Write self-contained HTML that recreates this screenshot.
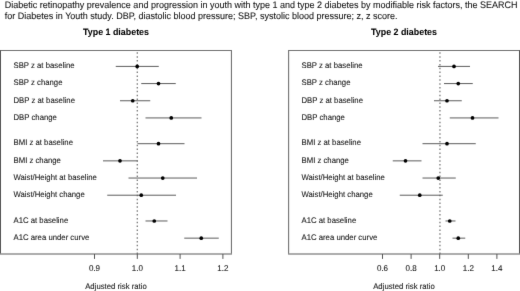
<!DOCTYPE html>
<html><head><meta charset="utf-8"><title>Diabetic retinopathy forest plot</title>
<style>html,body{margin:0;padding:0;background:#fff;overflow:hidden}svg{display:block}</style>
</head><body>
<svg width="520" height="291" viewBox="0 0 520 291">
<style>
text{text-rendering:geometricPrecision;font-family:"Liberation Sans",Arial,sans-serif;fill:#141414;stroke:#141414;stroke-width:0.08px}
.c{font-size:9px}
.h{font-size:8.9px;font-weight:bold;stroke-width:0.05px;fill:#000;stroke:#000}
.l{font-size:7.75px}
.t{font-size:8px}
.x{font-size:7.75px}
</style>
<defs><filter id="soft" x="0" y="0" width="100%" height="100%" color-interpolation-filters="sRGB"><feConvolveMatrix order="3" kernelMatrix="0.00524 0.06192 0.00524 0.06192 0.73137 0.06192 0.00524 0.06192 0.00524" edgeMode="duplicate"/></filter></defs>
<g filter="url(#soft)">
<rect width="520" height="291" fill="#fff"/>
<text x="4.80" y="7.80" class="c" transform="matrix(1 0 0 1.05 0 -0.390)">Diabetic retinopathy prevalence and progression in youth with type 1 and type 2 diabetes by modifiable risk factors, the SEARCH</text>
<text x="4.80" y="19.00" class="c" transform="matrix(1 0 0 1.05 0 -0.950)">for Diabetes in Youth study. DBP, diastolic blood pressure; SBP, systolic blood pressure; z, z score.</text>
<text x="116.00" y="34.50" class="h" text-anchor="middle" transform="matrix(1 0 0 1.05 0 -1.725)">Type 1 diabetes</text>
<line x1="0.0" y1="50.4" x2="231.95" y2="50.4" stroke="#727272" stroke-width="1.05"/>
<line x1="0.5" y1="50.4" x2="0.5" y2="254.0" stroke="#555" stroke-width="1.0"/>
<line x1="231.45" y1="50.4" x2="231.45" y2="254.0" stroke="#727272" stroke-width="1.1"/>
<line x1="0.0" y1="254.0" x2="231.95" y2="254.0" stroke="#909090" stroke-width="1.35"/>
<line x1="137.25" y1="52.35" x2="137.25" y2="254.0" stroke="#606060" stroke-width="1.1" stroke-dasharray="1.5 2.35"/>
<text x="13.50" y="68.20" class="l" transform="matrix(1 0 0 1.05 0 -3.410)">SBP z at baseline</text>
<line x1="115.75" y1="66.40" x2="158.75" y2="66.40" stroke="#5c5c5c" stroke-width="1.0"/>
<circle cx="137.2" cy="66.40" r="1.85" fill="#000"/>
<text x="13.50" y="85.38" class="l" transform="matrix(1 0 0 1.05 0 -4.269)">SBP z change</text>
<line x1="141.25" y1="83.58" x2="175.75" y2="83.58" stroke="#5c5c5c" stroke-width="1.0"/>
<circle cx="158.5" cy="83.58" r="1.85" fill="#000"/>
<text x="13.50" y="102.55" class="l" transform="matrix(1 0 0 1.05 0 -5.128)">DBP z at baseline</text>
<line x1="120.0" y1="100.75" x2="150.25" y2="100.75" stroke="#5c5c5c" stroke-width="1.0"/>
<circle cx="132.75" cy="100.75" r="1.85" fill="#000"/>
<text x="13.50" y="119.73" class="l" transform="matrix(1 0 0 1.05 0 -5.986)">DBP change</text>
<line x1="145.5" y1="117.93" x2="201.5" y2="117.93" stroke="#5c5c5c" stroke-width="1.0"/>
<circle cx="171.25" cy="117.93" r="1.85" fill="#000"/>
<text x="13.50" y="145.49" class="l" transform="matrix(1 0 0 1.05 0 -7.274)">BMI z at baseline</text>
<line x1="137.5" y1="143.69" x2="184.5" y2="143.69" stroke="#5c5c5c" stroke-width="1.0"/>
<circle cx="158.5" cy="143.69" r="1.85" fill="#000"/>
<text x="13.50" y="162.66" class="l" transform="matrix(1 0 0 1.05 0 -8.133)">BMI z change</text>
<line x1="103.0" y1="160.86" x2="137.75" y2="160.86" stroke="#5c5c5c" stroke-width="1.0"/>
<circle cx="120.0" cy="160.86" r="1.85" fill="#000"/>
<text x="13.50" y="179.84" class="l" transform="matrix(1 0 0 1.05 0 -8.992)">Waist/Height at baseline</text>
<line x1="128.5" y1="178.04" x2="197.0" y2="178.04" stroke="#5c5c5c" stroke-width="1.0"/>
<circle cx="162.75" cy="178.04" r="1.85" fill="#000"/>
<text x="13.50" y="197.01" class="l" transform="matrix(1 0 0 1.05 0 -9.851)">Waist/Height change</text>
<line x1="107.25" y1="195.21" x2="176.0" y2="195.21" stroke="#5c5c5c" stroke-width="1.0"/>
<circle cx="141.25" cy="195.21" r="1.85" fill="#000"/>
<text x="13.50" y="222.78" class="l" transform="matrix(1 0 0 1.05 0 -11.139)">A1C at baseline</text>
<line x1="145.5" y1="220.98" x2="167.5" y2="220.98" stroke="#5c5c5c" stroke-width="1.0"/>
<circle cx="154.25" cy="220.98" r="1.85" fill="#000"/>
<text x="13.50" y="239.95" class="l" transform="matrix(1 0 0 1.05 0 -11.998)">A1C area under curve</text>
<line x1="184.25" y1="238.15" x2="218.75" y2="238.15" stroke="#5c5c5c" stroke-width="1.0"/>
<circle cx="201.25" cy="238.15" r="1.85" fill="#000"/>
<line x1="94.5" y1="254.0" x2="94.5" y2="258.9" stroke="#555" stroke-width="1.0"/>
<text x="94.50" y="271.00" class="t" text-anchor="middle" transform="matrix(1 0 0 1.05 0 -13.550)">0.9</text>
<line x1="137.3" y1="254.0" x2="137.3" y2="258.9" stroke="#555" stroke-width="1.0"/>
<text x="137.30" y="271.00" class="t" text-anchor="middle" transform="matrix(1 0 0 1.05 0 -13.550)">1.0</text>
<line x1="180.1" y1="254.0" x2="180.1" y2="258.9" stroke="#555" stroke-width="1.0"/>
<text x="180.10" y="271.00" class="t" text-anchor="middle" transform="matrix(1 0 0 1.05 0 -13.550)">1.1</text>
<line x1="222.9" y1="254.0" x2="222.9" y2="258.9" stroke="#555" stroke-width="1.0"/>
<text x="222.90" y="271.00" class="t" text-anchor="middle" transform="matrix(1 0 0 1.05 0 -13.550)">1.2</text>
<text x="116.00" y="289.50" class="x" text-anchor="middle" transform="matrix(1 0 0 1.05 0 -14.475)">Adjusted risk ratio</text>
<text x="404.00" y="34.50" class="h" text-anchor="middle" transform="matrix(1 0 0 1.05 0 -1.725)">Type 2 diabetes</text>
<line x1="288.1" y1="50.4" x2="520.0" y2="50.4" stroke="#727272" stroke-width="1.05"/>
<line x1="288.6" y1="50.4" x2="288.6" y2="254.0" stroke="#727272" stroke-width="1.1"/>
<line x1="519.5" y1="50.4" x2="519.5" y2="254.0" stroke="#555" stroke-width="1.0"/>
<line x1="288.1" y1="254.0" x2="520.0" y2="254.0" stroke="#909090" stroke-width="1.35"/>
<line x1="439.95" y1="52.35" x2="439.95" y2="254.0" stroke="#606060" stroke-width="1.1" stroke-dasharray="1.5 2.35"/>
<text x="301.50" y="68.20" class="l" transform="matrix(1 0 0 1.05 0 -3.410)">SBP z at baseline</text>
<line x1="438.0" y1="66.40" x2="470.0" y2="66.40" stroke="#5c5c5c" stroke-width="1.0"/>
<circle cx="454.0" cy="66.40" r="1.85" fill="#000"/>
<text x="301.50" y="85.38" class="l" transform="matrix(1 0 0 1.05 0 -4.269)">SBP z change</text>
<line x1="444.0" y1="83.58" x2="472.75" y2="83.58" stroke="#5c5c5c" stroke-width="1.0"/>
<circle cx="458.25" cy="83.58" r="1.85" fill="#000"/>
<text x="301.50" y="102.55" class="l" transform="matrix(1 0 0 1.05 0 -5.128)">DBP z at baseline</text>
<line x1="434.0" y1="100.75" x2="461.75" y2="100.75" stroke="#5c5c5c" stroke-width="1.0"/>
<circle cx="447.0" cy="100.75" r="1.85" fill="#000"/>
<text x="301.50" y="119.73" class="l" transform="matrix(1 0 0 1.05 0 -5.986)">DBP change</text>
<line x1="449.75" y1="117.93" x2="498.5" y2="117.93" stroke="#5c5c5c" stroke-width="1.0"/>
<circle cx="472.5" cy="117.93" r="1.85" fill="#000"/>
<text x="301.50" y="145.49" class="l" transform="matrix(1 0 0 1.05 0 -7.274)">BMI z at baseline</text>
<line x1="422.5" y1="143.69" x2="475.75" y2="143.69" stroke="#5c5c5c" stroke-width="1.0"/>
<circle cx="447.0" cy="143.69" r="1.85" fill="#000"/>
<text x="301.50" y="162.66" class="l" transform="matrix(1 0 0 1.05 0 -8.133)">BMI z change</text>
<line x1="392.75" y1="160.86" x2="421.5" y2="160.86" stroke="#5c5c5c" stroke-width="1.0"/>
<circle cx="405.5" cy="160.86" r="1.85" fill="#000"/>
<text x="301.50" y="179.84" class="l" transform="matrix(1 0 0 1.05 0 -8.992)">Waist/Height at baseline</text>
<line x1="422.5" y1="178.04" x2="455.75" y2="178.04" stroke="#5c5c5c" stroke-width="1.0"/>
<circle cx="438.25" cy="178.04" r="1.85" fill="#000"/>
<text x="301.50" y="197.01" class="l" transform="matrix(1 0 0 1.05 0 -9.851)">Waist/Height change</text>
<line x1="399.75" y1="195.21" x2="442.75" y2="195.21" stroke="#5c5c5c" stroke-width="1.0"/>
<circle cx="419.75" cy="195.21" r="1.85" fill="#000"/>
<text x="301.50" y="222.78" class="l" transform="matrix(1 0 0 1.05 0 -11.139)">A1C at baseline</text>
<line x1="445.5" y1="220.98" x2="455.5" y2="220.98" stroke="#5c5c5c" stroke-width="1.0"/>
<circle cx="449.75" cy="220.98" r="1.85" fill="#000"/>
<text x="301.50" y="239.95" class="l" transform="matrix(1 0 0 1.05 0 -11.998)">A1C area under curve</text>
<line x1="452.5" y1="238.15" x2="465.25" y2="238.15" stroke="#5c5c5c" stroke-width="1.0"/>
<circle cx="458.25" cy="238.15" r="1.85" fill="#000"/>
<line x1="382.5" y1="254.0" x2="382.5" y2="258.9" stroke="#555" stroke-width="1.0"/>
<text x="382.50" y="271.00" class="t" text-anchor="middle" transform="matrix(1 0 0 1.05 0 -13.550)">0.6</text>
<line x1="411.1" y1="254.0" x2="411.1" y2="258.9" stroke="#555" stroke-width="1.0"/>
<text x="411.10" y="271.00" class="t" text-anchor="middle" transform="matrix(1 0 0 1.05 0 -13.550)">0.8</text>
<line x1="439.7" y1="254.0" x2="439.7" y2="258.9" stroke="#555" stroke-width="1.0"/>
<text x="439.70" y="271.00" class="t" text-anchor="middle" transform="matrix(1 0 0 1.05 0 -13.550)">1.0</text>
<line x1="468.3" y1="254.0" x2="468.3" y2="258.9" stroke="#555" stroke-width="1.0"/>
<text x="468.30" y="271.00" class="t" text-anchor="middle" transform="matrix(1 0 0 1.05 0 -13.550)">1.2</text>
<line x1="496.9" y1="254.0" x2="496.9" y2="258.9" stroke="#555" stroke-width="1.0"/>
<text x="496.90" y="271.00" class="t" text-anchor="middle" transform="matrix(1 0 0 1.05 0 -13.550)">1.4</text>
<text x="404.00" y="289.50" class="x" text-anchor="middle" transform="matrix(1 0 0 1.05 0 -14.475)">Adjusted risk ratio</text>
</g>
</svg>
</body></html>
